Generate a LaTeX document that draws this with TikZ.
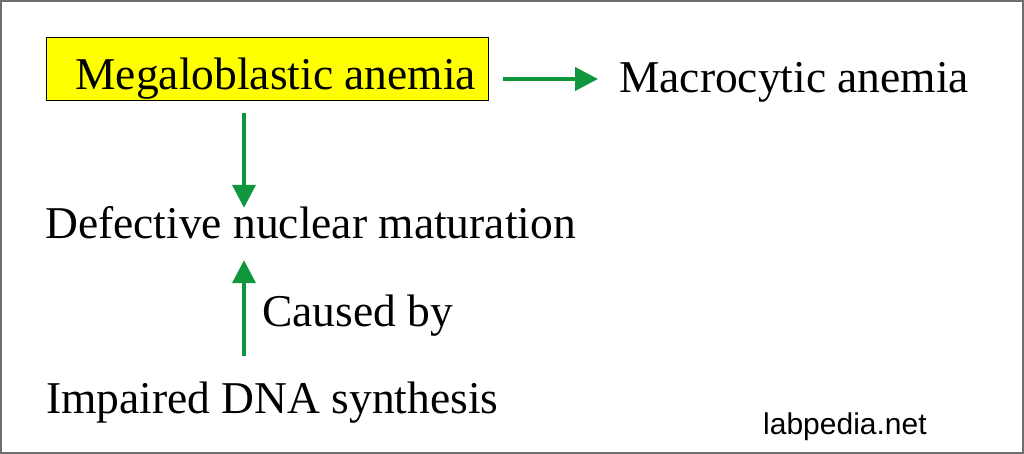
\documentclass[tikz,border=0pt]{standalone}
\usepackage{fontspec}
\setmainfont{Liberation Serif}
\newfontfamily\wmfont{Liberation Sans}
\usetikzlibrary{arrows.meta}
\definecolor{arrowgreen}{RGB}{16,150,60}
\definecolor{boxyellow}{RGB}{255,255,0}
\definecolor{framegray}{RGB}{110,110,110}
\begin{document}
\begin{tikzpicture}[x=1pt,y=-1pt,
  lbl/.style={inner sep=0pt,anchor=base west,text height=34pt,text depth=11pt,
    font=\fontsize{45.5}{50}\selectfont},
  megabox/.style={lbl,fill=boxyellow,draw=black,line width=1pt,inner xsep=12pt,
    text height=52pt,text depth=11pt},
  wm/.style={inner sep=0pt,anchor=base west,font=\wmfont\fontsize{30}{34}\selectfont},
  garrow/.style={draw=arrowgreen,line width=4pt,
    -{Triangle[length=23pt,width=23pt,fill=arrowgreen]}}]
\useasboundingbox (0,0) rectangle (1024,454);
\draw[framegray,line width=2pt] (1,1) rectangle (1023,453);
\node[megabox] (mega) at (46,90) {\hspace*{17pt}Megaloblastic anemia};
\node[lbl] (macro) at (619,93) {Macrocytic anemia};
\node[lbl] (defect) at (45,238) {Defective nuclear maturation};
\node[lbl] (impaired) at (46,413) {Impaired DNA synthesis};
\node[lbl] (caused) at (262,326) {Caused by};
\node[wm] (site) at (763,434) {labpedia.net};
\coordinate (vx) at (244,0);
\draw[garrow,shorten <=14pt,shorten >=21pt] (mega.east |- 0,79) -- (macro.west |- 0,79);
\draw[garrow,shorten <=12pt,shorten >=-4pt] (mega.south -| vx) -- (defect.north -| vx);
\draw[garrow,shorten <=23pt,shorten >=11pt] (impaired.north -| vx) -- (defect.south -| vx);
\end{tikzpicture}
\end{document}
